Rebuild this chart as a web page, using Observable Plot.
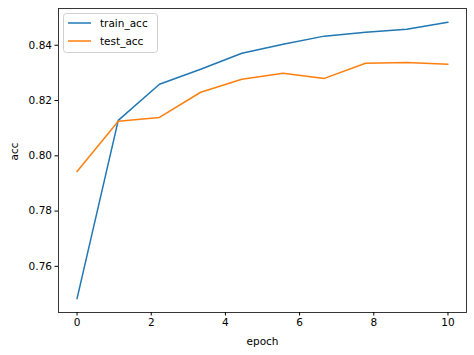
<!DOCTYPE html>
<html>
<head>
<meta charset="utf-8">
<script src="https://cdn.jsdelivr.net/npm/d3@7"></script>
<script src="https://cdn.jsdelivr.net/npm/@observablehq/plot@0.6"></script>
<style>
  body { margin: 0; background: #fff; }
  svg { font-family: "DejaVu Sans", sans-serif; }
</style>
</head>
<body>
<div id="chart"></div>
<script>
const epochs = [0, 1.111, 2.222, 3.333, 4.444, 5.556, 6.667, 7.778, 8.889, 10];
const trainAcc = [0.7483, 0.8128, 0.8259, 0.8313, 0.8371, 0.8404, 0.8433, 0.8447, 0.8458, 0.8483];
const testAcc = [0.7943, 0.8125, 0.8139, 0.8230, 0.8277, 0.8299, 0.8280, 0.8335, 0.8338, 0.8331];
const seriesNames = ["train_acc", "test_acc"];
const seriesColors = ["#1f77b4", "#ff7f0e"];
const xTicks = [0, 2, 4, 6, 8, 10];
const yTicks = [0.76, 0.78, 0.80, 0.82, 0.84];

const data = [];
epochs.forEach((e, i) => {
  data.push({epoch: e, acc: trainAcc[i], series: seriesNames[0]});
  data.push({epoch: e, acc: testAcc[i], series: seriesNames[1]});
});

const fs = 10.5;
const plot = Plot.plot({
  width: 474,
  height: 355,
  marginLeft: 58,
  marginRight: 8,
  marginTop: 8,
  marginBottom: 43,
  style: {fontFamily: "DejaVu Sans, sans-serif", fontSize: fs + "px", color: "#000", background: "#fff"},
  x: {domain: [-0.5, 10.5]},
  y: {domain: [0.7433, 0.8533]},
  color: {domain: seriesNames, range: seriesColors},
  marks: [
    Plot.line(data, {x: "epoch", y: "acc", stroke: "series", z: "series", strokeWidth: 1.5}),
    Plot.frame({stroke: "#222", strokeWidth: 0.9}),
    Plot.axisX({ticks: xTicks, tickSize: 3.5, tickPadding: 3, label: null, fontSize: fs}),
    Plot.axisY({ticks: yTicks, tickSize: 3.5, tickPadding: 3, label: null, tickFormat: d3.format(".2f"), fontSize: fs}),
    Plot.text(["epoch"], {frameAnchor: "bottom", dy: 29, fontSize: fs, lineAnchor: "middle"}),
    Plot.text(["acc"], {frameAnchor: "left", dx: -44, rotate: -90, fontSize: fs, lineAnchor: "middle"})
  ]
});

// legend
const svg = d3.select(plot);
const lg = svg.append("g").attr("font-size", fs).attr("text-anchor", "start");
lg.append("rect").attr("x", 63.5).attr("y", 13.5).attr("width", 94).attr("height", 39)
  .attr("rx", 3).attr("fill", "#fff").attr("fill-opacity", 0.8).attr("stroke", "#d0d0d0");
seriesNames.forEach((name, i) => {
  const y = 23 + i * 18;
  lg.append("line").attr("x1", 68).attr("x2", 91).attr("y1", y).attr("y2", y)
    .attr("stroke", seriesColors[i]).attr("stroke-width", 1.5);
  lg.append("text").attr("x", 100).attr("y", y).attr("dy", "0.35em")
    .attr("text-anchor", "start").attr("fill", "#000").text(name);
});

document.getElementById("chart").appendChild(plot);
</script>
</body>
</html>
